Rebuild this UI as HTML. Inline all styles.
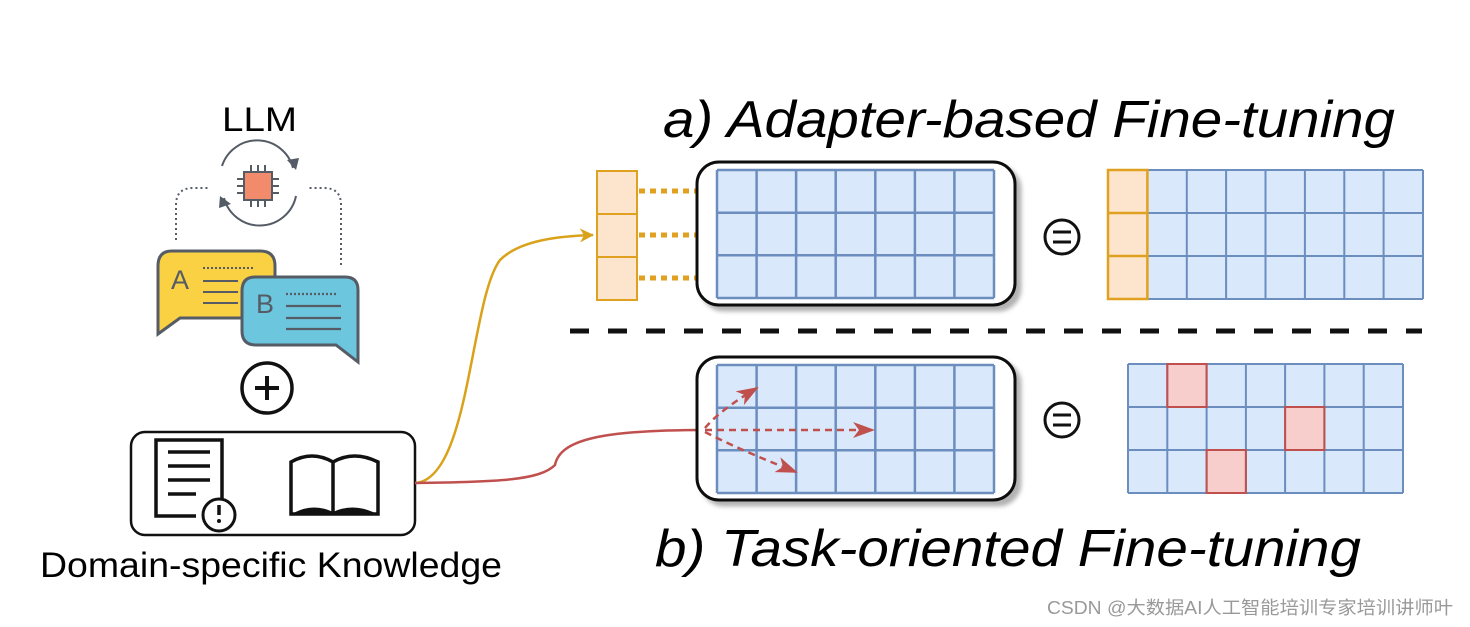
<!DOCTYPE html>
<html><head><meta charset="utf-8"><style>
html,body{margin:0;padding:0;background:#fff;width:1470px;height:627px;overflow:hidden}
text{font-family:"Liberation Sans","Noto Sans CJK SC",sans-serif}
</style></head><body>
<svg width="1470" height="627" viewBox="0 0 1470 627" xmlns="http://www.w3.org/2000/svg">
<defs>
<filter id="sh" x="-10%" y="-10%" width="130%" height="130%"><feDropShadow dx="5" dy="5" stdDeviation="2" flood-color="#000" flood-opacity="0.3"/></filter>
<marker id="ay" markerWidth="14" markerHeight="14" refX="13" refY="7" orient="auto" markerUnits="userSpaceOnUse"><path d="M0,0 L14,7 L0,14 L4,7 Z" fill="#d9a21a"/></marker>
<marker id="ar" markerWidth="22" markerHeight="16" refX="20" refY="8" orient="auto" markerUnits="userSpaceOnUse"><path d="M0,0 L22,8 L0,16 L6,8 Z" fill="#c0504d"/></marker>
</defs>

<!-- titles -->
<text x="663" y="137" font-size="52" font-style="italic" textLength="732" lengthAdjust="spacingAndGlyphs">a) Adapter-based Fine-tuning</text>
<text x="655" y="566" font-size="52" font-style="italic" textLength="706" lengthAdjust="spacingAndGlyphs">b) Task-oriented Fine-tuning</text>
<text x="222" y="131" font-size="34" textLength="75" lengthAdjust="spacingAndGlyphs">LLM</text>
<text x="40" y="577" font-size="35" textLength="462" lengthAdjust="spacingAndGlyphs">Domain-specific Knowledge</text>
<text x="1047" y="614" font-size="18" fill="#999" textLength="406" lengthAdjust="spacingAndGlyphs">CSDN @大数据AI人工智能培训专家培训讲师叶</text>

<!-- LLM icon -->
<g fill="none" stroke="#555c66" stroke-width="2">
<path d="M222,166 A37,37 0 0 1 293,168"/>
<path d="M296,196 A37,37 0 0 1 224,198"/>
<path d="M176,240 V205 Q176,188 193,188 H210" stroke-dasharray="2,3"/>
<path d="M341,265 V205 Q341,188 324,188 H308" stroke-dasharray="2,3"/>
</g>
<path d="M287,160 L296,170 L299,158 Z" fill="#555c66"/>
<path d="M231,204 L220,196 L219,208 Z" fill="#555c66"/>
<rect x="244" y="172" width="28" height="28" fill="#f28b6c" stroke="#555c66" stroke-width="2"/>
<g stroke="#555c66" stroke-width="2">
<path d="M251,165v7M258,165v7M265,165v7M251,200v7M258,200v7M265,200v7M237,179h7M237,186h7M237,193h7M272,179h7M272,186h7M272,193h7"/>
</g>
<!-- yellow bubble -->
<path d="M172,251 H260 Q275,251 275,266 V305 Q275,318 262,318 H180 L158,334 V266 Q158,251 172,251 Z" fill="#f9d142" stroke="#555c66" stroke-width="3"/>
<text x="171" y="289" font-size="27" fill="#555c66">A</text>
<g stroke="#555c66" stroke-width="2"><path d="M203,268h52" stroke-dasharray="2,2"/><path d="M203,281h35M203,292h35M203,303h35"/></g>
<!-- blue bubble -->
<path d="M255,277 H345 Q358,277 358,290 V362 L336,345 H256 Q242,345 242,331 V291 Q242,277 255,277 Z" fill="#6cc6dd" stroke="#555c66" stroke-width="3"/>
<text x="256" y="313" font-size="27" fill="#555c66">B</text>
<g stroke="#555c66" stroke-width="2.2"><path d="M286,294h52" stroke-dasharray="2,2"/><path d="M286,306h55M286,318h55M286,329h55"/></g>
<!-- plus -->
<circle cx="267" cy="388" r="25" fill="none" stroke="#111" stroke-width="3.5"/>
<path d="M255,388h24M267,376v24" stroke="#111" stroke-width="4"/>
<!-- knowledge box -->
<rect x="131" y="432" width="284" height="103" rx="14" fill="#fff" stroke="#111" stroke-width="2.5"/>
<path d="M222,505 V440 H156 V516 H196" fill="none" stroke="#111" stroke-width="3.5"/>
<path d="M168,452h42M168,466h42M168,480h42M168,494h28" stroke="#111" stroke-width="3.5"/>
<circle cx="219" cy="515" r="16" fill="#fff" stroke="#111" stroke-width="3"/>
<path d="M219,505v10" stroke="#111" stroke-width="3.5"/><circle cx="219" cy="521" r="2" fill="#111"/>
<path d="M291,462 Q312,450 333,462 Q354,450 378,462 V514 H291 Z M333,462 V514" fill="none" stroke="#111" stroke-width="3.5"/>
<path d="M292,514 Q312,502 333,512 Q354,502 377,514 Z" fill="#111"/>

<!-- connectors -->
<path d="M415,483 C470,480 470,300 500,260 C520,240 560,236 593,235" fill="none" stroke="#d9a21a" stroke-width="2.5" marker-end="url(#ay)"/>
<path d="M415,483 C500,482 540,480 555,465 C560,440 600,430 705,430" fill="none" stroke="#c0504d" stroke-width="2.5"/>

<!-- adapter -->
<g fill="#fde5cd" stroke="#e0a020" stroke-width="2">
<rect x="597" y="171" width="40" height="43"/><rect x="597" y="214" width="40" height="43"/><rect x="597" y="257" width="40" height="43"/>
</g>
<path d="M639,191h57M639,235h57M639,278h57" stroke="#e0a020" stroke-width="5" stroke-dasharray="6,5"/>

<!-- box1 -->
<rect x="697" y="162" width="318" height="143" rx="22" fill="#fff" stroke="#111" stroke-width="3" filter="url(#sh)"/>
<rect x="717" y="170" width="277" height="128" fill="#dae8fc"/>
<path d="M717,170V298M756.6,170V298M796.1,170V298M835.7,170V298M875.3,170V298M914.9,170V298M954.4,170V298M994,170V298M717,170H994M717,212.7H994M717,255.3H994M717,298H994" stroke="#6c8ebf" stroke-width="2.5"/>

<!-- box2 -->
<rect x="697" y="357" width="318" height="143" rx="22" fill="#fff" stroke="#111" stroke-width="3" filter="url(#sh)"/>
<rect x="717" y="365" width="277" height="128" fill="#dae8fc"/>
<path d="M717,365V493M756.6,365V493M796.1,365V493M835.7,365V493M875.3,365V493M914.9,365V493M954.4,365V493M994,365V493M717,365H994M717,407.7H994M717,450.3H994M717,493H994" stroke="#6c8ebf" stroke-width="2.5"/>
<g fill="none" stroke="#c0504d" stroke-width="2.5" stroke-dasharray="7,5">
<path d="M705,430 H873" marker-end="url(#ar)"/>
<path d="M705,428 Q720,410 757,388" marker-end="url(#ar)"/>
<path d="M705,432 Q740,450 796,472" marker-end="url(#ar)"/>
</g>

<!-- divider -->
<path d="M570,331 H1422" stroke="#111" stroke-width="5" stroke-dasharray="19,19"/>

<!-- equals -->
<g fill="none" stroke="#111" stroke-width="3">
<circle cx="1062" cy="237" r="17"/><path d="M1053,232h18M1053,242h18"/>
<circle cx="1062" cy="420" r="17"/><path d="M1053,415h18M1053,425h18"/>
</g>

<!-- right top -->
<rect x="1108" y="170" width="315" height="129" fill="#dae8fc"/>
<rect x="1108" y="170" width="39.4" height="129" fill="#fde5cd"/>
<path d="M1186.8,170V299M1226.1,170V299M1265.5,170V299M1304.9,170V299M1344.3,170V299M1383.6,170V299M1423,170V299M1147.4,170H1423M1147.4,213H1423M1147.4,256H1423M1147.4,299H1423" stroke="#6c8ebf" stroke-width="2"/>
<path d="M1108,170H1147.4V299H1108ZM1108,213H1147.4M1108,256H1147.4" fill="none" stroke="#e0a020" stroke-width="2.5"/>

<!-- right bottom -->
<rect x="1128" y="364" width="275" height="129" fill="#dae8fc"/>
<g fill="#f8cecc"><rect x="1167.3" y="364" width="39.3" height="43"/><rect x="1285.1" y="407" width="39.3" height="43"/><rect x="1206.6" y="450" width="39.3" height="43"/></g>
<path d="M1128,364V493M1167.3,364V493M1206.6,364V493M1245.9,364V493M1285.1,364V493M1324.4,364V493M1363.7,364V493M1403,364V493M1128,364H1403M1128,407H1403M1128,450H1403M1128,493H1403" stroke="#6c8ebf" stroke-width="2"/>
<g fill="none" stroke="#c0504d" stroke-width="2"><rect x="1167.3" y="364" width="39.3" height="43"/><rect x="1285.1" y="407" width="39.3" height="43"/><rect x="1206.6" y="450" width="39.3" height="43"/></g>
</svg>
</body></html>
